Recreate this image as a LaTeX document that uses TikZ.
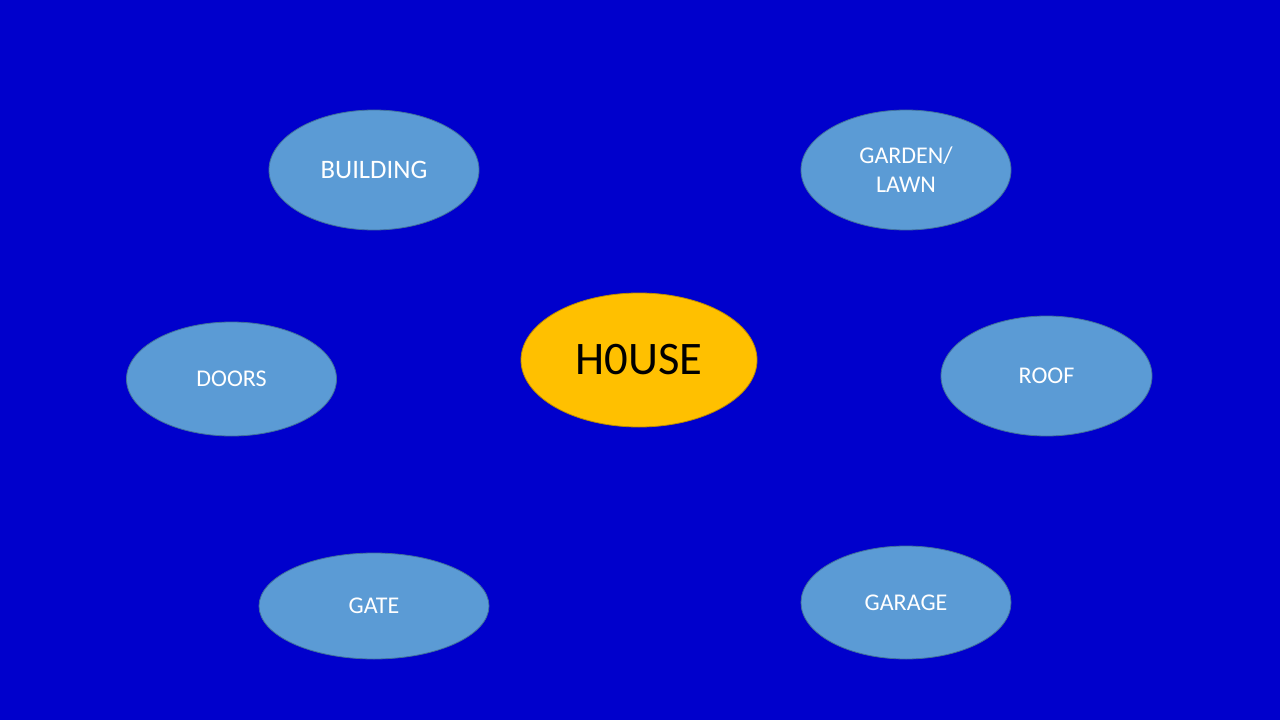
\documentclass[tikz,border=0pt]{standalone}
\usepackage{fontspec}
\setmainfont{Carlito}
\usepackage{tikz}
\usetikzlibrary{positioning,shapes.geometric}
\definecolor{slideblue}{HTML}{0000CC}
\definecolor{bubblefill}{HTML}{5B9BD5}
\definecolor{bubbleedge}{HTML}{41719C}
\definecolor{hubfill}{HTML}{FFC000}
\definecolor{hubedge}{HTML}{BC8C00}
\tikzset{%
	bubble/.style = {draw=bubbleedge, fill=bubblefill, ellipse, inner sep=0pt, line width=0.6pt, text=white, align=center, font=\fontsize{18}{21.6}\selectfont}, % Idea
	hub/.style    = {draw=hubedge, fill=hubfill, ellipse, inner sep=0pt, line width=0.6pt, text=black, font=\fontsize{35}{42}\selectfont}, % Centre
}

\begin{document}
\begin{tikzpicture}[x=0.75pt, y=-0.75pt]
	\fill[slideblue] (0,0) rectangle (1280,720);
	\useasboundingbox (0,0) rectangle (1280,720);
	\node[hub, minimum width=177pt, minimum height=100.5pt] (house) at (639,360) {H0USE};
	\node[bubble, minimum width=157.5pt, minimum height=90pt, font=\fontsize{20}{24}\selectfont] (building) at (374,170) {BUILDING};
	\node[bubble, minimum width=157.5pt, minimum height=90pt] (garden) at (906,170) {GARDEN/\\LAWN};
	\node[bubble, minimum width=157.5pt, minimum height=85.5pt] (doors) at (231.5,379) {DOORS};
	\node[bubble, minimum width=158.25pt, minimum height=90pt] (roof) at (1046.5,376) {ROOF};
	\node[bubble, minimum width=172.5pt, minimum height=79.5pt] (gate) at (374,606) {GATE};
	\node[bubble, minimum width=157.5pt, minimum height=84.75pt] (garage) at (906,602.5) {GARAGE};
\end{tikzpicture}
\end{document}
